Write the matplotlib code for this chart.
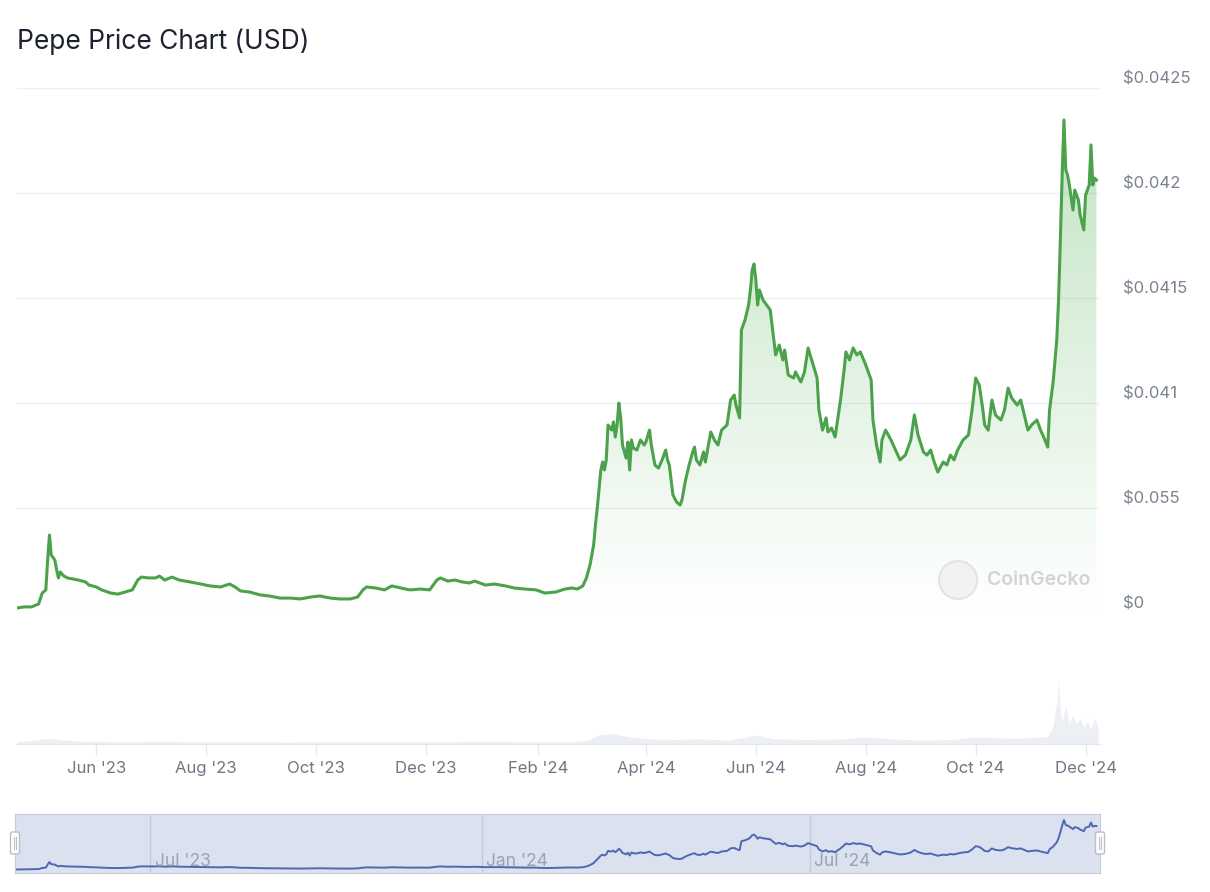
import datetime as dt
import matplotlib
matplotlib.use("Agg")
import matplotlib.pyplot as plt
import matplotlib.dates as mdates
import matplotlib.transforms as mtransforms
from matplotlib.patches import FancyBboxPatch, Circle
import numpy as np

plt.rcParams["font.family"] = ["Inter", "DejaVu Sans"]

START = dt.date(2023, 4, 18)
END_DAY = 601

# price, in units of 1e-6 USD, by days since START
price_days = [0, 4, 8, 12, 14, 16, 17, 18, 19, 21,
              22, 23, 24, 26, 28, 31, 34, 38, 40, 44,
              47, 52, 56, 60, 64, 67, 69, 73, 77, 79,
              82, 86, 90, 96, 102, 107, 113, 118, 121, 124,
              129, 135, 140, 146, 152, 157, 163, 168, 174, 179,
              185, 189, 192, 194, 199, 204, 208, 213, 218, 224,
              229, 233, 235, 239, 243, 247, 251, 254, 260, 265,
              271, 276, 282, 288, 293, 299, 304, 308, 311, 314,
              316, 318, 320, 321, 322, 324, 325, 326, 327, 328,
              330, 331, 332, 333, 334, 335, 336, 338, 339, 340,
              341, 342, 344, 346, 348, 349, 351, 352, 354, 356,
              358, 360, 361, 362, 364, 366, 368, 369, 371, 373,
              375, 376, 377, 379, 381, 382, 385, 387, 389, 391,
              394, 396, 398, 399, 401, 402, 404, 406, 407, 408,
              409, 410, 411, 412, 414, 416, 418, 420, 421, 423,
              425, 426, 428, 431, 432, 435, 437, 439, 441, 444,
              445, 447, 449, 450, 452, 454, 457, 459, 460, 462,
              464, 466, 468, 471, 474, 475, 477, 479, 480, 482,
              485, 487, 490, 493, 496, 498, 500, 503, 505, 507,
              509, 511, 514, 516, 518, 520, 522, 525, 528, 530,
              532, 534, 536, 537, 539, 541, 543, 546, 548, 550,
              552, 555, 557, 559, 561, 563, 566, 568, 570, 572,
              573, 575, 577, 578, 579, 580, 581, 582, 583, 584,
              586, 587, 589, 590, 592, 593, 595, 596, 597, 598,
              599]
price_vals = [0.24, 0.29, 0.29, 0.43, 0.95, 1.10, 2.52, 3.71, 2.76, 2.52,
              2.05, 1.67, 1.95, 1.76, 1.67, 1.62, 1.57, 1.48, 1.33, 1.24,
              1.10, 0.95, 0.90, 1.00, 1.10, 1.57, 1.71, 1.67, 1.67, 1.76,
              1.57, 1.71, 1.57, 1.48, 1.38, 1.29, 1.24, 1.38, 1.24, 1.05,
              1.00, 0.86, 0.81, 0.71, 0.71, 0.67, 0.76, 0.81, 0.71, 0.67,
              0.67, 0.76, 1.10, 1.24, 1.19, 1.10, 1.29, 1.19, 1.10, 1.14,
              1.10, 1.57, 1.67, 1.52, 1.57, 1.48, 1.43, 1.52, 1.33, 1.38,
              1.29, 1.19, 1.14, 1.10, 0.95, 1.00, 1.14, 1.19, 1.14, 1.29,
              1.67, 2.29, 3.24, 4.19, 5.00, 6.81, 7.19, 6.81, 7.29, 8.95,
              8.71, 9.10, 8.38, 8.95, 10.00, 9.29, 8.00, 7.38, 8.14, 6.81,
              8.24, 7.86, 7.76, 8.24, 8.00, 8.14, 8.71, 8.00, 7.05, 6.90,
              7.29, 7.76, 7.29, 7.05, 5.62, 5.29, 5.14, 5.38, 6.33, 7.05,
              7.67, 7.90, 7.29, 7.05, 7.67, 7.19, 8.62, 8.24, 8.00, 8.71,
              8.95, 10.14, 10.38, 9.90, 9.29, 13.48, 13.95, 14.67, 15.38, 16.33,
              16.62, 15.86, 14.67, 15.38, 14.90, 14.67, 14.43, 13.00, 12.29, 12.76,
              12.05, 12.52, 11.33, 11.19, 11.48, 11.00, 11.48, 12.62, 12.05, 11.19,
              9.67, 8.71, 9.29, 8.62, 8.81, 8.38, 10.14, 11.57, 12.43, 12.05,
              12.62, 12.29, 12.43, 11.81, 11.10, 9.19, 8.00, 7.19, 8.24, 8.71,
              8.24, 7.86, 7.29, 7.52, 8.24, 9.43, 8.48, 7.67, 7.52, 7.76,
              7.19, 6.71, 7.19, 7.05, 7.52, 7.29, 7.76, 8.24, 8.48, 9.67,
              11.19, 10.86, 9.67, 8.95, 8.71, 10.14, 9.43, 9.19, 9.67, 10.71,
              10.24, 9.90, 10.14, 9.43, 8.71, 8.95, 9.19, 8.71, 8.33, 7.90,
              9.67, 11.00, 13.00, 14.90, 17.76, 20.86, 23.48, 21.10, 20.86, 20.38,
              19.19, 20.14, 19.67, 18.95, 18.24, 19.90, 20.38, 22.29, 20.38, 20.71,
              20.62]

# trading volume, billions USD
vol_days = [0, 10, 18, 25, 40, 60, 80, 100, 120, 150,
            180, 200, 230, 260, 290, 310, 318, 322, 330, 340,
            350, 365, 380, 395, 405, 410, 420, 440, 460, 470,
            480, 500, 520, 530, 540, 555, 565, 572, 575, 577,
            578, 579, 580, 582, 584, 586, 588, 590, 592, 594,
            596, 598, 600]
vol_vals = [0.4, 0.6, 0.9, 0.6, 0.4, 0.35, 0.4, 0.35, 0.35, 0.3,
            0.35, 0.35, 0.35, 0.4, 0.35, 0.35, 0.7, 1.4, 1.6, 1.1,
            0.8, 0.7, 0.8, 0.6, 1.1, 1.4, 0.8, 0.7, 0.8, 1.1,
            0.9, 0.6, 0.7, 1.1, 1.0, 0.9, 1.0, 1.2, 2.8, 6.5,
            10.0, 5.0, 3.5, 6.0, 3.0, 4.5, 3.2, 4.0, 2.6, 3.5,
            2.4, 4.0, 2.5]

y_ticks = [0, 5, 10, 15, 20, 25]
y_labels = ["$0", "$0.055", "$0.041", "$0.0415", "$0.042", "$0.0425"]
x_ticks = [dt.date(2023, 6, 1), dt.date(2023, 8, 1), dt.date(2023, 10, 1),
           dt.date(2023, 12, 1), dt.date(2024, 2, 1), dt.date(2024, 4, 1),
           dt.date(2024, 6, 1), dt.date(2024, 8, 1), dt.date(2024, 10, 1),
           dt.date(2024, 12, 1)]
nav_ticks = [dt.date(2023, 7, 1), dt.date(2024, 1, 1), dt.date(2024, 7, 1)]

assert len(price_days) == len(price_vals)
assert len(vol_days) == len(vol_vals)

W, H = 1210, 892
fig = plt.figure(figsize=(W / 100, H / 100), dpi=100)


def box(x0, y0, x1, y1):
    return [x0 / W, 1 - y1 / H, (x1 - x0) / W, (y1 - y0) / H]


def to_num(days):
    return mdates.date2num([START + dt.timedelta(days=d) for d in days])


px = to_num(price_days)
vx = to_num(vol_days)
xlim = (mdates.date2num(START), mdates.date2num(START + dt.timedelta(days=END_DAY)))
GREEN = "#4ba24b"

# ---- price panel
ax = fig.add_axes(box(17, 88, 1100, 613))
for t in y_ticks:
    ax.axhline(t, color="#e3e6ea" if t == 0 else "#eef0f3", lw=1, zorder=0)
fill = ax.fill_between(px, price_vals, 0, color="none", lw=0)
grad = np.zeros((256, 1, 4))
grad[:, :, :3] = matplotlib.colors.to_rgb("#4caf50")
grad[:, 0, 3] = np.linspace(0.36, 0.0, 256)
im = ax.imshow(grad, extent=[px[0], px[-1], 0, 25], aspect="auto",
               origin="upper", zorder=1)
im.set_clip_path(fill.get_paths()[0], transform=ax.transData)
ax.plot(px, price_vals, color=GREEN, lw=2.2, zorder=3, solid_joinstyle="round")
ax.set_xlim(*xlim)
ax.set_ylim(0, 25)
ax.axis("off")

trans = mtransforms.blended_transform_factory(ax.transAxes, ax.transData)
trans = mtransforms.offset_copy(trans, fig=fig, x=0, y=9, units="dots")
for t, lab in zip(y_ticks, y_labels):
    ax.text(1 + 23 / 1083, t, lab, transform=trans, ha="left", va="center",
            fontsize=12, color="#7b8290")

# watermark
fig.patches.append(Circle((9.58, (H - 580) / 100), 0.19, transform=fig.dpi_scale_trans,
                          facecolor="#f1f2f2", edgecolor="#e2e4e4", lw=1.5, zorder=5))
fig.text(987 / W, 1 - 580 / H, "CoinGecko", fontsize=14, color="#d2d4d4",
         fontweight="semibold", ha="left", va="center")

# ---- volume panel
vax = fig.add_axes(box(17, 650, 1100, 744))
vax.fill_between(vx, vol_vals, 0, color="#eceff3", lw=0)
vax.set_xlim(*xlim)
vax.set_ylim(0, 14.7)
for s in ["top", "right", "left"]:
    vax.spines[s].set_visible(False)
vax.spines["bottom"].set_color("#e3e6ea")
vax.set_yticks([])
vax.set_xticks(mdates.date2num(x_ticks))
vax.xaxis.set_major_formatter(mdates.DateFormatter("%b '%y"))
vax.tick_params(axis="x", direction="out", length=8, width=1, color="#e6e8ec",
                labelcolor="#6f7684", labelsize=12, pad=4)
vax.set_facecolor("none")

# ---- navigator
nax = fig.add_axes(box(15, 814, 1100, 873))
nax.set_facecolor("#dbe1ee")
for s in nax.spines.values():
    s.set_color("#c6cedd")
for t in nav_ticks:
    nax.axvline(mdates.date2num(t), color="#c3cada", lw=1, zorder=1)
    nax.text(mdates.date2num(t) + 2.5, 0.12, t.strftime("%b '%y"),
             transform=mtransforms.blended_transform_factory(nax.transData, nax.transAxes),
             ha="left", va="baseline", fontsize=12.5, color="#9ba2b0")
nax.plot(px, price_vals, color="#4d68b3", lw=1.4, zorder=2)
nax.set_xlim(xlim[0] - 1.1, xlim[1])
nax.set_ylim(-1.41, 26.3)
nax.set_xticks([])
nax.set_yticks([])

# navigator handles
for hx in (15, 1100):
    fig.patches.append(FancyBboxPatch(((hx - 4.5) / 100, (H - 854) / 100), 0.09, 0.22,
                                      boxstyle="round,pad=0,rounding_size=0.02",
                                      transform=fig.dpi_scale_trans,
                                      facecolor="white", edgecolor="#b9bfca", lw=1, zorder=6))
    for dx in (-1.2, 1.2):
        fig.lines.append(plt.Line2D([(hx + dx) / 100] * 2, [(H - 849) / 100, (H - 837) / 100],
                                    transform=fig.dpi_scale_trans, color="#b9bfca", lw=0.8,
                                    zorder=7))

# title
fig.text(17 / W, 1 - 42 / H, "Pepe Price Chart (USD)", fontsize=19, color="#1e2230",
         ha="left", va="center")

fig.savefig("out.png", dpi=100)
